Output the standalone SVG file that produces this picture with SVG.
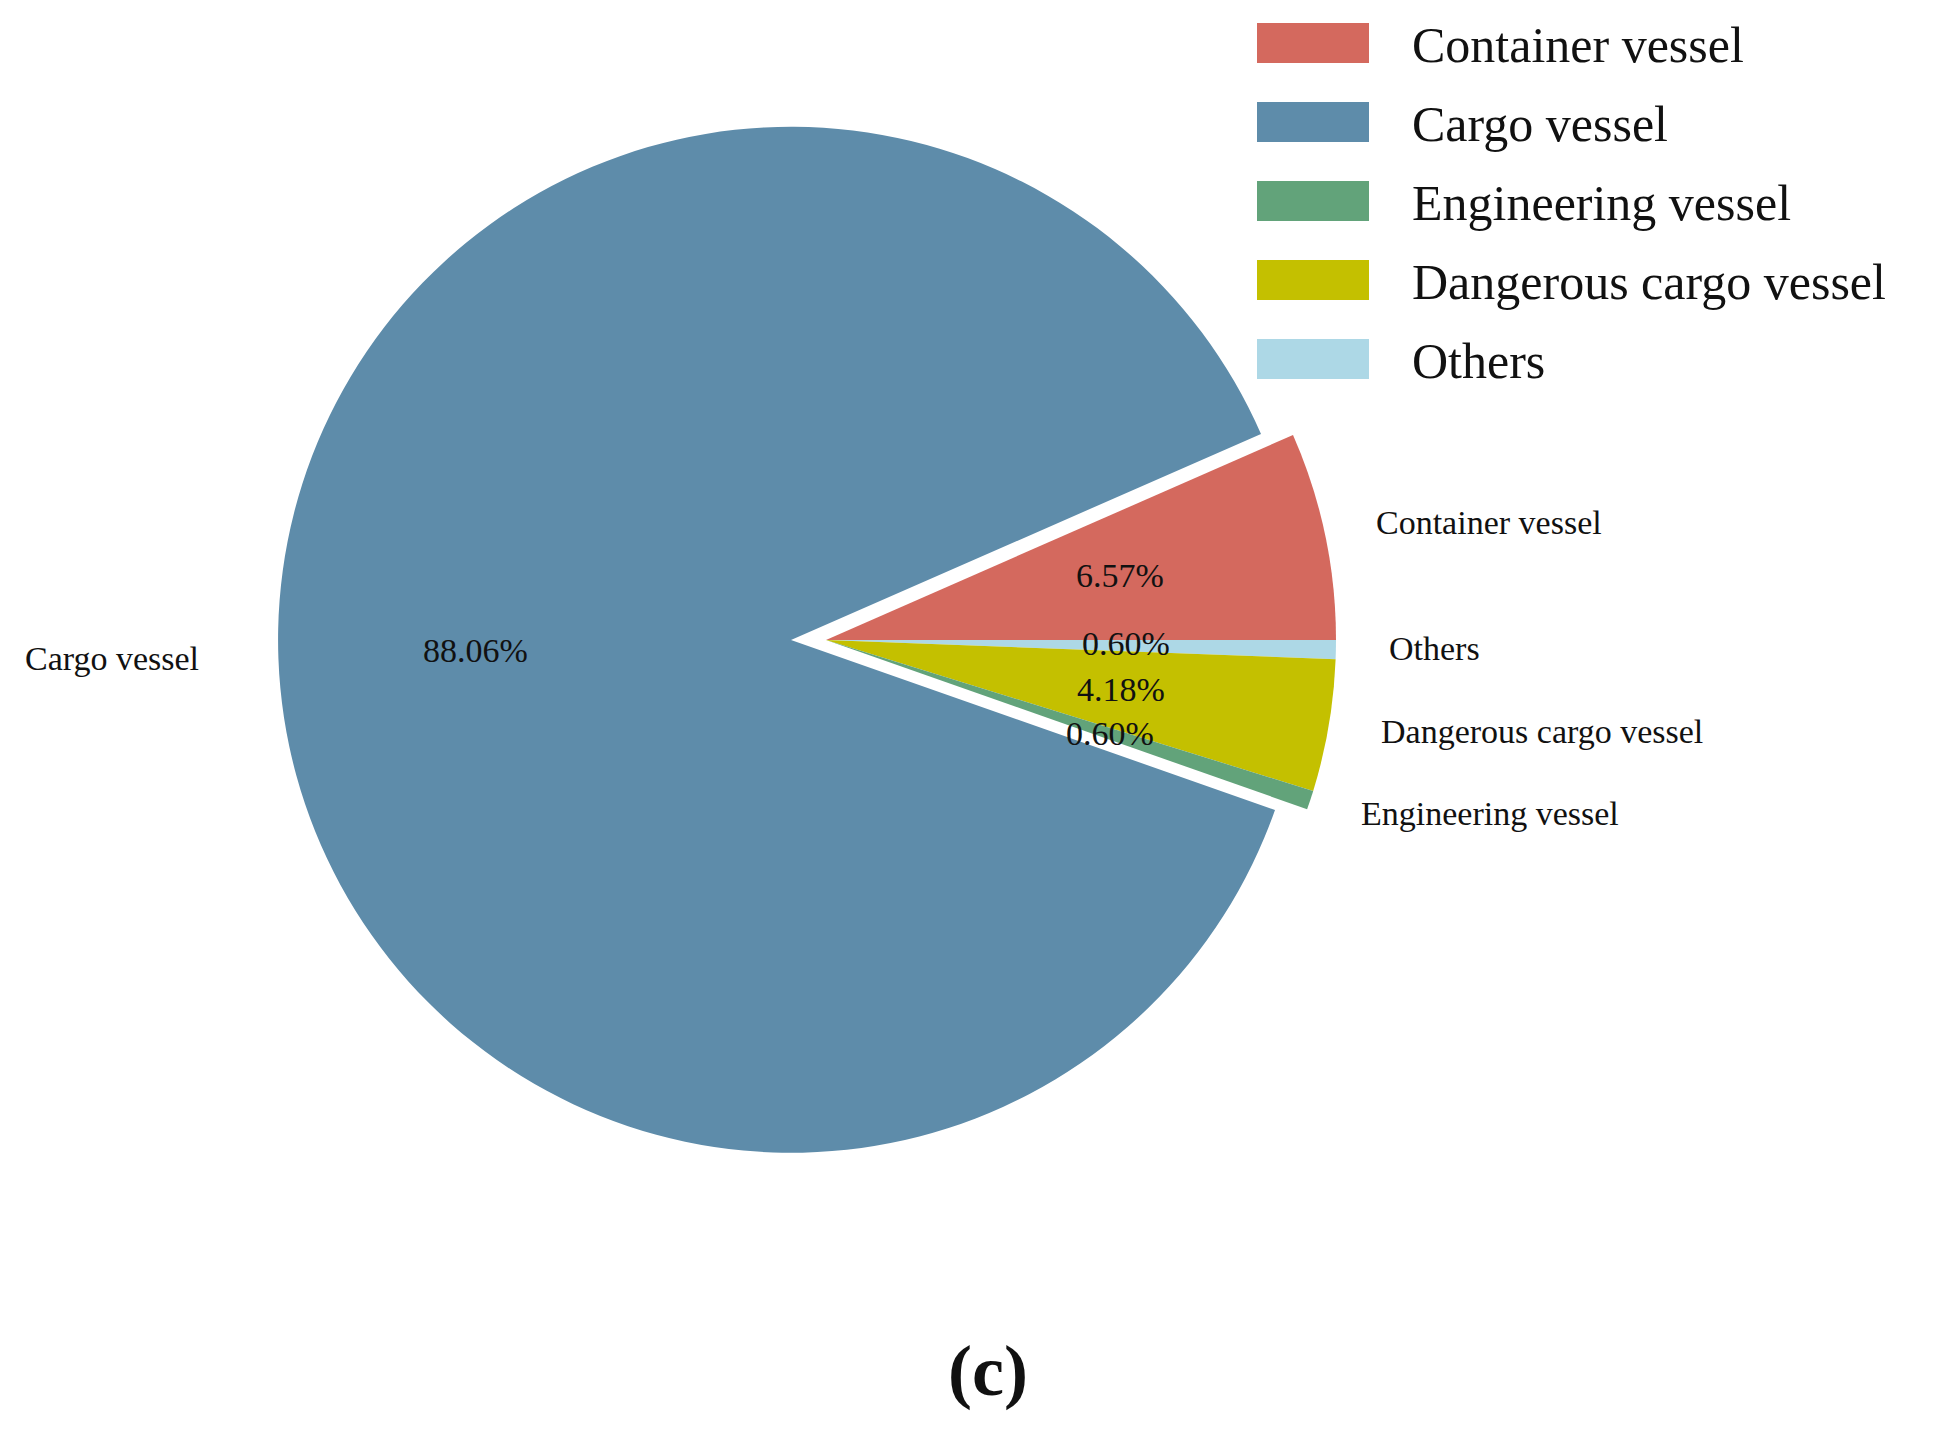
<svg xmlns="http://www.w3.org/2000/svg" width="1952" height="1439" viewBox="0 0 1952 1439">
<style>
text{font-family:"Liberation Serif","Times New Roman",serif;fill:#111}
.lab{font-size:34px}
.pct{font-size:34px}
.leg{font-size:50px}
</style>
<rect width="1952" height="1439" fill="#fff"/>
<g id="pie">
<path id="cargo" d="M791 640 L1275 810 A513 513 0 1 1 1261 434 Z" fill="#5E8CAA"/>
<path id="container" d="M826 640 L1336 640 A510 510 0 0 0 1293 435 Z" fill="#D4695E"/>
<path id="others" d="M826 640 L1336 640 A510 510 0 0 1 1335.6 659.2 Z" fill="#ADD8E6"/>
<path id="dangerous" d="M826 640 L1335.6 659.2 A510 510 0 0 1 1313.2 790.9 Z" fill="#C4C000"/>
<path id="engineering" d="M826 640 L1313.2 790.9 A510 510 0 0 1 1307.1 809.2 Z" fill="#62A37A"/>
</g>
<g id="labels">
<text class="lab" x="25" y="670">Cargo vessel</text>
<text class="pct" x="423" y="662">88.06%</text>
<text class="pct" x="1076" y="587">6.57%</text>
<text class="pct" x="1082" y="655">0.60%</text>
<text class="pct" x="1077" y="701">4.18%</text>
<text class="pct" x="1066" y="745">0.60%</text>
<text class="lab" x="1376" y="534">Container vessel</text>
<text class="lab" x="1389" y="660">Others</text>
<text class="lab" x="1381" y="743">Dangerous cargo vessel</text>
<text class="lab" x="1361" y="825">Engineering vessel</text>
</g>
<g id="legend">
<rect x="1257" y="23" width="112" height="40" fill="#D4695E"/>
<rect x="1257" y="102" width="112" height="40" fill="#5E8CAA"/>
<rect x="1257" y="181" width="112" height="40" fill="#62A37A"/>
<rect x="1257" y="260" width="112" height="40" fill="#C4C000"/>
<rect x="1257" y="339" width="112" height="40" fill="#ADD8E6"/>
<text class="leg" x="1412" y="62">Container vessel</text>
<text class="leg" x="1412" y="141">Cargo vessel</text>
<text class="leg" x="1412" y="220">Engineering vessel</text>
<text class="leg" x="1412" y="299">Dangerous cargo vessel</text>
<text class="leg" x="1412" y="378">Others</text>
</g>
<text x="988" y="1395" text-anchor="middle" font-size="72" font-weight="bold">(c)</text>
</svg>
